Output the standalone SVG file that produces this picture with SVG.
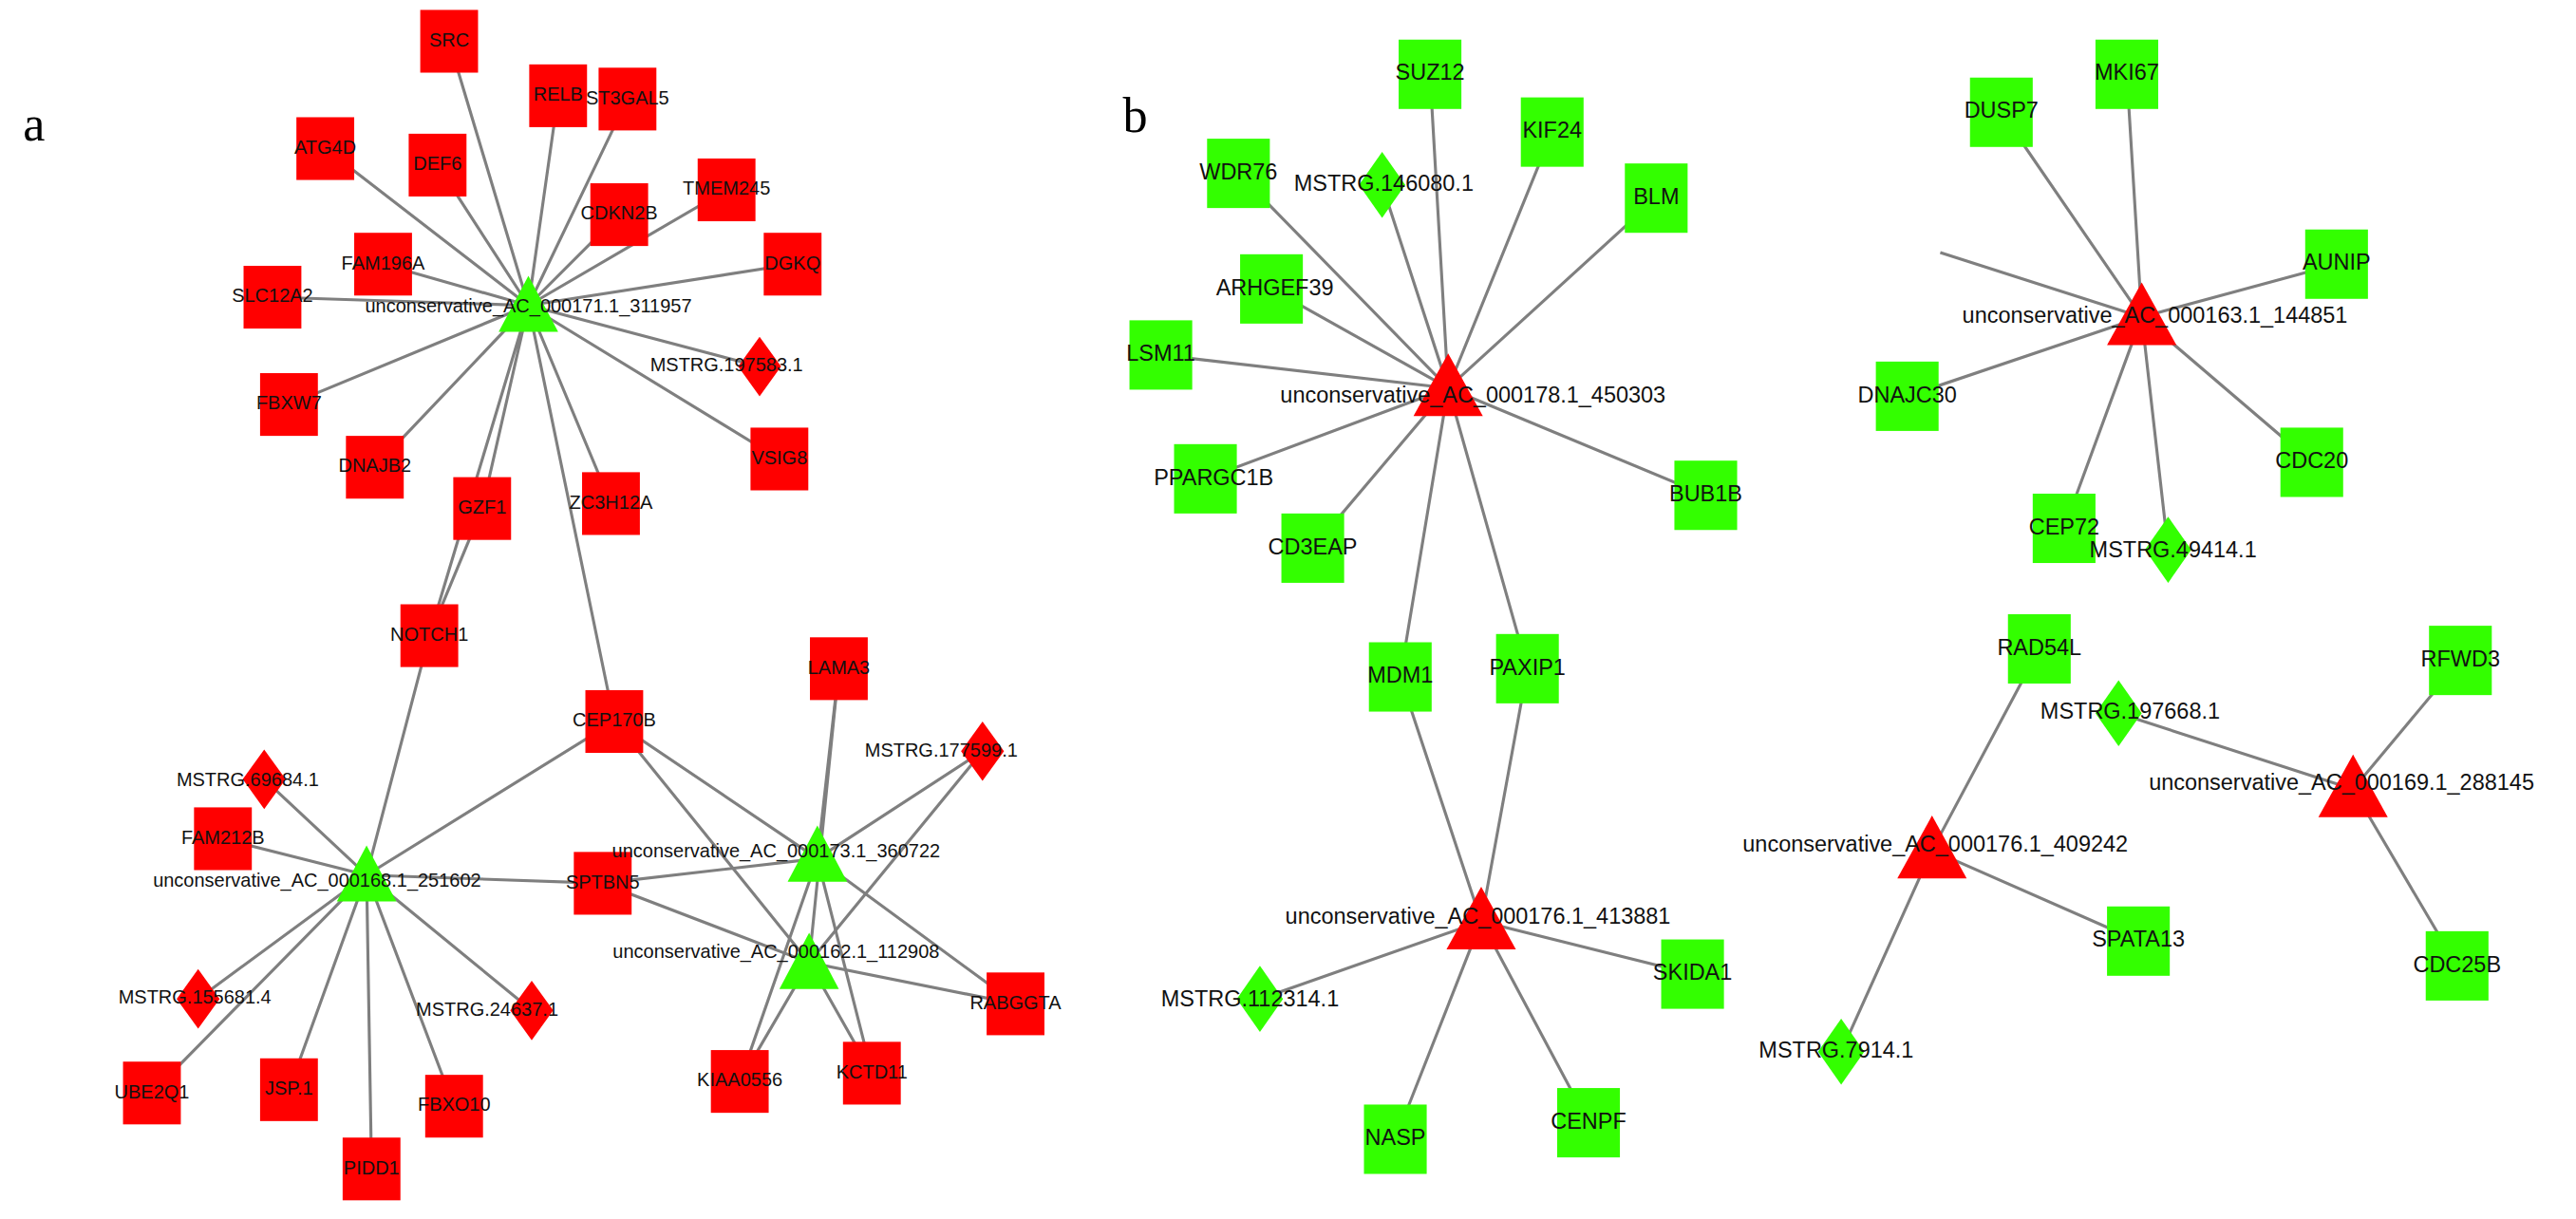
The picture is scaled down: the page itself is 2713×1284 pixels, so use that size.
<svg xmlns="http://www.w3.org/2000/svg" width="2713" height="1284" viewBox="0 0 2713 1284">
<style>
.e{stroke:#7f7f7f;stroke-width:1.8;fill:none}
.r{fill:#ff0000}
.g{fill:#33ff00}
.t{font-family:"Liberation Sans",Arial,sans-serif;font-size:11.5px;fill:#111;text-anchor:middle;dominant-baseline:middle}
.tb{font-family:"Liberation Sans",Arial,sans-serif;font-size:13.5px;fill:#111;text-anchor:middle;dominant-baseline:middle}
.p{font-family:"Liberation Serif","Times New Roman",serif;font-size:30px;fill:#000}
</style>
<rect width="2713" height="1284" fill="#fff"/>
<g transform="scale(1.7391)">
<text class="p" x="14" y="85">a</text>
<text class="p" x="680" y="80">b</text>
<g id="edges">
<path class="e" d="M320,185L272,25M320,185L338,58M320,185L380,60M320,185L197,90M320,185L265,100M320,185L375,130M320,185L440,115M320,185L480,160M320,185L232,160M320,185L165,180M320,185L460,222M320,185L175,245M320,185L227,283M320,185L292,308M320,185L260,385M320,185L370,305M320,185L472,278M320,185L372,437"/>
<path class="e" d="M292,308L260,385"/>
<path class="e" d="M222,530L260,385M222,530L160,472M222,530L135,508M222,530L372,437M222,530L365,535M222,530L120,605M222,530L92,662M222,530L175,660M222,530L225,708M222,530L275,670M222,530L322,612"/>
<path class="e" d="M495,520L372,437M495,520L508,405M495,520L595,455M495,520L365,535M495,520L615,608M495,520L528,650M495,520L448,655"/>
<path class="e" d="M490,583L372,437M490,583L365,535M490,583L508,405M490,583L595,455M490,583L615,608M490,583L448,655M490,583L528,650"/>
<path class="e" d="M877,235L866,45M877,235L837,112M877,235L940,80M877,235L1003,120M877,235L750,105M877,235L770,175M877,235L703,215M877,235L730,290M877,235L795,332M877,235L1033,300M877,235L848,410M877,235L925,405"/>
<path class="e" d="M897,558L848,410M897,558L925,405M897,558L763,605M897,558L1025,590M897,558L845,690M897,558L962,680"/>
<path class="e" d="M1297,192L1212,68M1297,192L1288,45M1297,192L1415,160M1297,192L1175,153M1297,192L1155,240M1297,192L1400,280M1297,192L1250,320M1297,192L1313,333"/>
<path class="e" d="M1425,478L1490,400M1425,478L1283,432M1425,478L1488,585"/>
<path class="e" d="M1170,515L1235,393M1170,515L1295,570M1170,515L1115,637"/>
</g>
<g id="SRC"><rect class="r" x="254.5" y="6" width="35" height="38"/><text class="t" x="272" y="25">SRC</text></g>
<g id="RELB"><rect class="r" x="320.5" y="39" width="35" height="38"/><text class="t" x="338" y="58">RELB</text></g>
<g id="ST3GAL5"><rect class="r" x="362.5" y="41" width="35" height="38"/><text class="t" x="380" y="60">ST3GAL5</text></g>
<g id="ATG4D"><rect class="r" x="179.5" y="71" width="35" height="38"/><text class="t" x="197" y="90">ATG4D</text></g>
<g id="DEF6"><rect class="r" x="247.5" y="81" width="35" height="38"/><text class="t" x="265" y="100">DEF6</text></g>
<g id="CDKN2B"><rect class="r" x="357.5" y="111" width="35" height="38"/><text class="t" x="375" y="130">CDKN2B</text></g>
<g id="TMEM245"><rect class="r" x="422.5" y="96" width="35" height="38"/><text class="t" x="440" y="115">TMEM245</text></g>
<g id="DGKQ"><rect class="r" x="462.5" y="141" width="35" height="38"/><text class="t" x="480" y="160">DGKQ</text></g>
<g id="FAM196A"><rect class="r" x="214.5" y="141" width="35" height="38"/><text class="t" x="232" y="160">FAM196A</text></g>
<g id="SLC12A2"><rect class="r" x="147.5" y="161" width="35" height="38"/><text class="t" x="165" y="180">SLC12A2</text></g>
<g id="FBXW7"><rect class="r" x="157.5" y="226" width="35" height="38"/><text class="t" x="175" y="245">FBXW7</text></g>
<g id="DNAJB2"><rect class="r" x="209.5" y="264" width="35" height="38"/><text class="t" x="227" y="283">DNAJB2</text></g>
<g id="GZF1"><rect class="r" x="274.5" y="289" width="35" height="38"/><text class="t" x="292" y="308">GZF1</text></g>
<g id="ZC3H12A"><rect class="r" x="352.5" y="286" width="35" height="38"/><text class="t" x="370" y="305">ZC3H12A</text></g>
<g id="VSIG8"><rect class="r" x="454.5" y="259" width="35" height="38"/><text class="t" x="472" y="278">VSIG8</text></g>
<g id="NOTCH1"><rect class="r" x="242.5" y="366" width="35" height="38"/><text class="t" x="260" y="385">NOTCH1</text></g>
<g id="CEP170B"><rect class="r" x="354.5" y="418" width="35" height="38"/><text class="t" x="372" y="437">CEP170B</text></g>
<g id="LAMA3"><rect class="r" x="490.5" y="386" width="35" height="38"/><text class="t" x="508" y="405">LAMA3</text></g>
<g id="FAM212B"><rect class="r" x="117.5" y="489" width="35" height="38"/><text class="t" x="135" y="508">FAM212B</text></g>
<g id="SPTBN5"><rect class="r" x="347.5" y="516" width="35" height="38"/><text class="t" x="365" y="535">SPTBN5</text></g>
<g id="RABGGTA"><rect class="r" x="597.5" y="589" width="35" height="38"/><text class="t" x="615" y="608">RABGGTA</text></g>
<g id="KIAA0556"><rect class="r" x="430.5" y="636" width="35" height="38"/><text class="t" x="448" y="655">KIAA0556</text></g>
<g id="KCTD11"><rect class="r" x="510.5" y="631" width="35" height="38"/><text class="t" x="528" y="650">KCTD11</text></g>
<g id="UBE2Q1"><rect class="r" x="74.5" y="643" width="35" height="38"/><text class="t" x="92" y="662">UBE2Q1</text></g>
<g id="JSP.1"><rect class="r" x="157.5" y="641" width="35" height="38"/><text class="t" x="175" y="660">JSP.1</text></g>
<g id="FBXO10"><rect class="r" x="257.5" y="651" width="35" height="38"/><text class="t" x="275" y="670">FBXO10</text></g>
<g id="PIDD1"><rect class="r" x="207.5" y="689" width="35" height="38"/><text class="t" x="225" y="708">PIDD1</text></g>
<g id="MSTRG.197583.1"><polygon class="r" points="460,204 473,222 460,240 447,222"/><text class="t" x="440" y="222">MSTRG.197583.1</text></g>
<g id="MSTRG.177599.1"><polygon class="r" points="595,437 608,455 595,473 582,455"/><text class="t" x="570" y="455">MSTRG.177599.1</text></g>
<g id="MSTRG.69684.1"><polygon class="r" points="160,454 173,472 160,490 147,472"/><text class="t" x="150" y="473">MSTRG.69684.1</text></g>
<g id="MSTRG.155681.4"><polygon class="r" points="120,587 133,605 120,623 107,605"/><text class="t" x="118" y="605">MSTRG.155681.4</text></g>
<g id="MSTRG.24637.1"><polygon class="r" points="322,594 335,612 322,630 309,612"/><text class="t" x="295" y="612">MSTRG.24637.1</text></g>
<g id="hub171"><polygon class="g" points="320,167 302,201 338,201"/><text class="t" x="320" y="186">unconservative_AC_000171.1_311957</text></g>
<g id="hub168"><polygon class="g" points="222,512 204,546 240,546"/><text class="t" x="192" y="534">unconservative_AC_000168.1_251602</text></g>
<g id="hub173"><polygon class="g" points="495,500 477,534 513,534"/><text class="t" x="470" y="516">unconservative_AC_000173.1_360722</text></g>
<g id="hub162"><polygon class="g" points="490,565 472,599 508,599"/><text class="t" x="470" y="577">unconservative_AC_000162.1_112908</text></g>
<g id="SUZ12"><rect class="g" x="847" y="24" width="38" height="42"/><text class="tb" x="866" y="45">SUZ12</text></g>
<g id="KIF24"><rect class="g" x="921" y="59" width="38" height="42"/><text class="tb" x="940" y="80">KIF24</text></g>
<g id="BLM"><rect class="g" x="984" y="99" width="38" height="42"/><text class="tb" x="1003" y="120">BLM</text></g>
<g id="WDR76"><rect class="g" x="731" y="84" width="38" height="42"/><text class="tb" x="750" y="105">WDR76</text></g>
<g id="ARHGEF39"><rect class="g" x="751" y="154" width="38" height="42"/><text class="tb" x="772" y="175">ARHGEF39</text></g>
<g id="LSM11"><rect class="g" x="684" y="194" width="38" height="42"/><text class="tb" x="703" y="215">LSM11</text></g>
<g id="PPARGC1B"><rect class="g" x="711" y="269" width="38" height="42"/><text class="tb" x="735" y="290">PPARGC1B</text></g>
<g id="BUB1B"><rect class="g" x="1014" y="279" width="38" height="42"/><text class="tb" x="1033" y="300">BUB1B</text></g>
<g id="CD3EAP"><rect class="g" x="776" y="311" width="38" height="42"/><text class="tb" x="795" y="332">CD3EAP</text></g>
<g id="MDM1"><rect class="g" x="829" y="389" width="38" height="42"/><text class="tb" x="848" y="410">MDM1</text></g>
<g id="PAXIP1"><rect class="g" x="906" y="384" width="38" height="42"/><text class="tb" x="925" y="405">PAXIP1</text></g>
<g id="SKIDA1"><rect class="g" x="1006" y="569" width="38" height="42"/><text class="tb" x="1025" y="590">SKIDA1</text></g>
<g id="NASP"><rect class="g" x="826" y="669" width="38" height="42"/><text class="tb" x="845" y="690">NASP</text></g>
<g id="CENPF"><rect class="g" x="943" y="659" width="38" height="42"/><text class="tb" x="962" y="680">CENPF</text></g>
<g id="DUSP7"><rect class="g" x="1193" y="47" width="38" height="42"/><text class="tb" x="1212" y="68">DUSP7</text></g>
<g id="MKI67"><rect class="g" x="1269" y="24" width="38" height="42"/><text class="tb" x="1288" y="45">MKI67</text></g>
<g id="AUNIP"><rect class="g" x="1396" y="139" width="38" height="42"/><text class="tb" x="1415" y="160">AUNIP</text></g>
<g id="DNAJC30"><rect class="g" x="1136" y="219" width="38" height="42"/><text class="tb" x="1155" y="240">DNAJC30</text></g>
<g id="CDC20"><rect class="g" x="1381" y="259" width="38" height="42"/><text class="tb" x="1400" y="280">CDC20</text></g>
<g id="CEP72"><rect class="g" x="1231" y="299" width="38" height="42"/><text class="tb" x="1250" y="320">CEP72</text></g>
<g id="RAD54L"><rect class="g" x="1216" y="372" width="38" height="42"/><text class="tb" x="1235" y="393">RAD54L</text></g>
<g id="RFWD3"><rect class="g" x="1471" y="379" width="38" height="42"/><text class="tb" x="1490" y="400">RFWD3</text></g>
<g id="SPATA13"><rect class="g" x="1276" y="549" width="38" height="42"/><text class="tb" x="1295" y="570">SPATA13</text></g>
<g id="CDC25B"><rect class="g" x="1469" y="564" width="38" height="42"/><text class="tb" x="1488" y="585">CDC25B</text></g>
<g id="MSTRG.146080.1"><polygon class="g" points="837,92 851,112 837,132 823,112"/><text class="tb" x="838" y="112">MSTRG.146080.1</text></g>
<g id="MSTRG.112314.1"><polygon class="g" points="763,585 777,605 763,625 749,605"/><text class="tb" x="757" y="606">MSTRG.112314.1</text></g>
<g id="MSTRG.49414.1"><polygon class="g" points="1313,313 1327,333 1313,353 1299,333"/><text class="tb" x="1316" y="334">MSTRG.49414.1</text></g>
<g id="MSTRG.197668.1"><polygon class="g" points="1283,412 1297,432 1283,452 1269,432"/><text class="tb" x="1290" y="432">MSTRG.197668.1</text></g>
<g id="MSTRG.7914.1"><polygon class="g" points="1115,617 1129,637 1115,657 1101,637"/><text class="tb" x="1112" y="637">MSTRG.7914.1</text></g>
<g id="hub178"><polygon class="r" points="877,214 856,252 898,252"/><text class="tb" x="892" y="240">unconservative_AC_000178.1_450303</text></g>
<g id="hub176a"><polygon class="r" points="897,537 876,575 918,575"/><text class="tb" x="895" y="556">unconservative_AC_000176.1_413881</text></g>
<g id="hub163"><polygon class="r" points="1297,171 1276,209 1318,209"/><text class="tb" x="1305" y="192">unconservative_AC_000163.1_144851</text></g>
<g id="hub169"><polygon class="r" points="1425,457 1404,495 1446,495"/><text class="tb" x="1418" y="475">unconservative_AC_000169.1_288145</text></g>
<g id="hub176b"><polygon class="r" points="1170,494 1149,532 1191,532"/><text class="tb" x="1172" y="512">unconservative_AC_000176.1_409242</text></g>
</g>
</svg>
